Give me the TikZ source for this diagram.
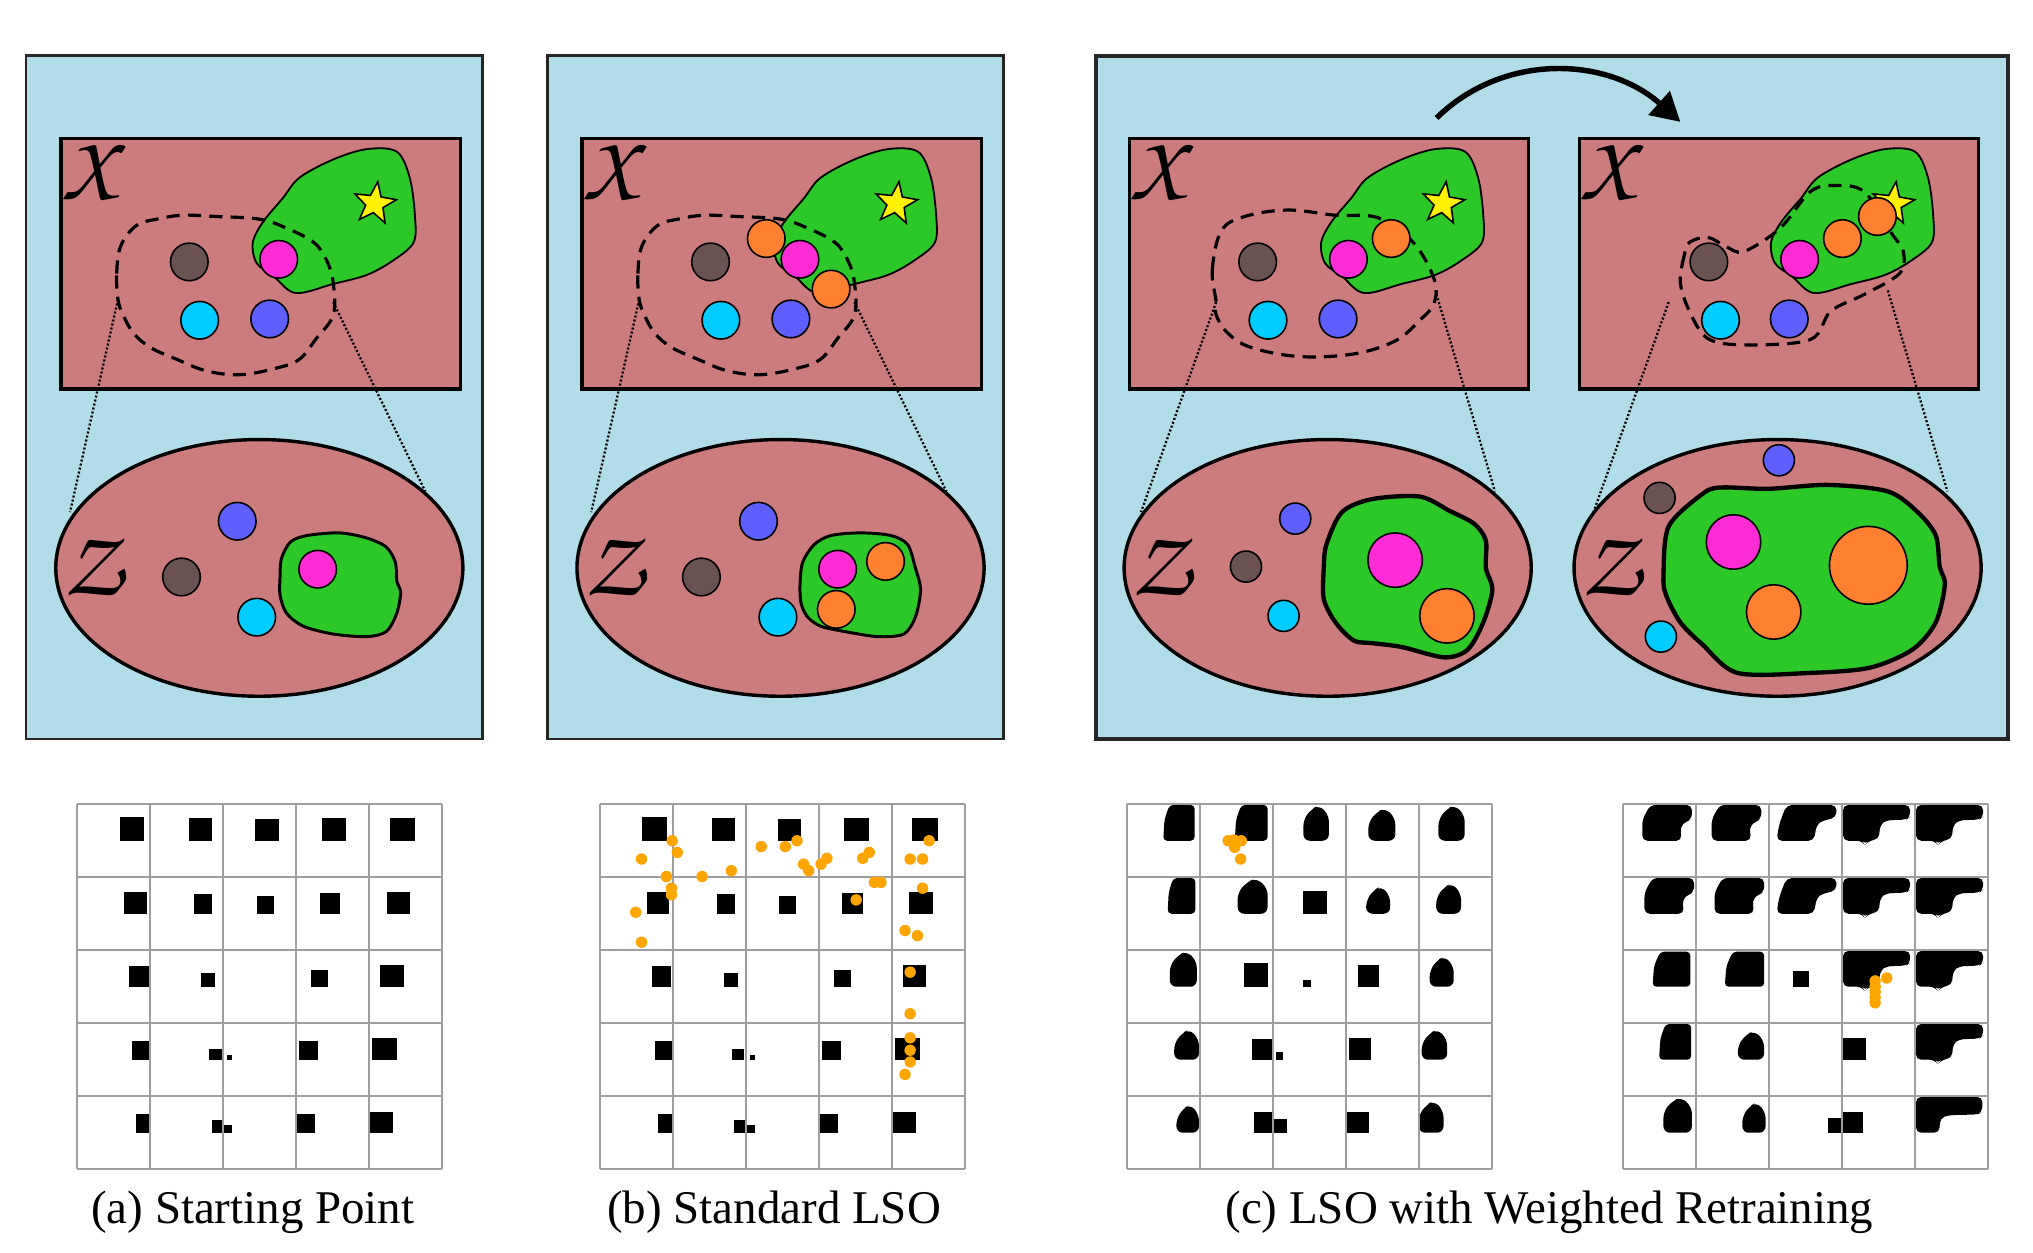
\documentclass[tikz,border=0pt]{standalone}
\usepackage{fontspec}
\setmainfont{Liberation Serif}
\usetikzlibrary{shapes.geometric,arrows.meta}

\definecolor{skyback}{RGB}{176,221,232}
\definecolor{rosy}{RGB}{204,124,124}
\definecolor{leaf}{RGB}{44,200,40}
\definecolor{seedbrown}{RGB}{107,82,82}
\definecolor{seedcyan}{RGB}{0,204,255}
\definecolor{seedblue}{RGB}{95,95,255}
\definecolor{seedpink}{RGB}{255,44,214}
\definecolor{neworange}{RGB}{255,128,48}
\definecolor{dotorange}{RGB}{255,165,0}

\newcommand{\chancery}{\fontencoding{OT1}\fontfamily{pzc}\fontseries{mb}\fontshape{it}\selectfont}

\tikzset{
  panel/.style={fill=skyback, draw=black!85, line width=0.6pt},
  space/.style={fill=rosy, draw=black, line width=0.75pt},
  region/.style={draw=black, line width=0.7pt, dash pattern=on 2.9pt off 1.8pt},
  blobx/.style={fill=leaf, draw=black, line width=0.4pt},
  blobz/.style={fill=leaf, draw=black, line width=0.65pt},
  pt/.style={draw=black, line width=0.35pt},
  zoomline/.style={line width=0.5pt, dash pattern=on 0.45pt off 0.45pt},
  gridline/.style={draw=black!38, line width=0.4pt},
  caption/.style={font=\fontsize{10.3}{12}\selectfont},
  lbl/.style={font=\fontsize{20.5}{20.5}\chancery, inner sep=0pt},
  goal/.style={star, star points=5, star point ratio=2.4, fill=yellow, draw=black,
    line width=0.35pt, minimum size=3.4mm, inner sep=0pt, rotate=-8},
  cyclearrow/.style={line width=1.2pt, -{Triangle[length=2.2mm, width=2.4mm]}},
  goodblob/.pic={
    \draw[blobx] plot[smooth cycle, tension=0.55] coordinates {(195,187) (203,171) (218,153)
      (231,137) (257,123) (283,115) (306,117) (316,137) (320,166) (319,187) (303,201)
      (283,212) (257,219) (228,226) (211,213) (198,203)};
  },
  seedregion/.pic={
    \draw[region] plot[smooth cycle, tension=0.6] coordinates {(91,231) (90,211) (93,190)
      (105,174) (121,169) (141,166) (167,167) (200,169) (221,176) (242,187) (252,201)
      (257,218) (257,243) (244,261) (231,277) (213,284) (185,289) (159,286) (136,277)
      (116,268) (103,257) (95,243)};
  },
  notchblot/.pic={
    \fill[rounded corners=0.4mm] (0.37,0.01) -- (0.94,0.01) -- (0.94,0.2) -- (0.86,0.24)
      -- (0.78,0.3) -- (0.8,0.5) -- (0.26,0.5) -- (0.26,0.21) -- cycle;
  },
  midblot/.pic={
    \fill[rounded corners=0.4mm] (0.24,0.01) -- (0.92,0.01) -- (0.92,0.18) -- (0.72,0.23)
      -- (0.65,0.28) -- (0.61,0.5) -- (0.1,0.5) -- (0.13,0.3) -- (0.18,0.15) -- cycle;
  },
  stepblot/.pic={
    \fill[rounded corners=0.4mm] (0.01,0.01) -- (0.93,0.01) -- (0.93,0.17) -- (0.88,0.21)
      -- (0.6,0.22) -- (0.52,0.28) -- (0.5,0.48) -- (0.36,0.5) -- (0.31,0.56) -- (0.27,0.5)
      -- (0.01,0.5) -- cycle;
  },
  lastblot/.pic={
    \fill[rounded corners=0.4mm] (0.01,0.01) -- (0.92,0.01) -- (0.92,0.22) -- (0.85,0.25)
      -- (0.45,0.26) -- (0.34,0.3) -- (0.33,0.5) -- (0.01,0.5) -- cycle;
  }
}

\newcommand{\slantblot}[4]{\fill[rounded corners=0.3mm] (#1,#4) -- ({#1+0.04*(#2-#1)},{#3+0.2})
  -- ({#1+0.2*(#2-#1)},#3) -- (#2,#3) -- (#2,#4) -- cycle;}
\newcommand{\hutblot}[4]{\fill[rounded corners=0.5mm] (#1,#4) -- (#1,{#3+0.2})
  -- ({#1+0.3*(#2-#1)},{#3+0.06}) -- ({#1+0.62*(#2-#1)},#3) -- (#2,{#3+0.14}) -- (#2,#4) -- cycle;}
\newcommand{\squarelist}{0.58/0.18/0.92/0.5, 1.53/0.19/1.85/0.5, 2.44/0.2/2.76/0.5,
  3.35/0.19/3.68/0.5, 4.28/0.19/4.63/0.5, 0.64/1.2/0.95/1.5, 1.6/1.23/1.85/1.5,
  2.46/1.26/2.69/1.5, 3.32/1.21/3.6/1.5, 4.24/1.2/4.56/1.5, 0.71/2.22/0.98/2.5,
  1.7/2.31/1.89/2.5, 3.2/2.27/3.44/2.5, 4.15/2.2/4.47/2.5, 0.75/3.24/0.99/3.5,
  1.81/3.35/1.98/3.5, 2.05/3.44/2.12/3.5, 3.04/3.25/3.3/3.5, 4.04/3.2/4.38/3.5,
  0.8/4.24/0.99/4.5, 1.84/4.33/2.0/4.5, 2.0/4.39/2.12/4.5, 3.0/4.24/3.26/4.5, 4.0/4.21/4.33/4.5}

\begin{document}
\begin{tikzpicture}[x=0.1mm, y=-0.1mm]
\useasboundingbox (0,0) rectangle (1568,966);

\draw[panel] (20,43) rectangle (372,570);
\draw[panel] (422,43) rectangle (774,570);
\draw[panel, line width=0.9pt] (845,43) rectangle (1549,570);

\foreach \dx in {0,402,824,1171} {
  \draw[space] ({47+\dx},107) rectangle ({355+\dx},300);
  \draw[space] ({200+\dx},438) ellipse [x radius=15.7mm, y radius=9.9mm];
  \node[lbl] (xlab-\dx) at ({69+\dx},132) {X};
  \node[lbl] (zlab-\dx) at ({71+\dx},437) {Z};
  \pic at (\dx,0) {goodblob};
  \node[goal] (star-\dx) at ({289+\dx},157) {};
}

\pic at (0,0) {seedregion};
\pic at (402,0) {seedregion};
\draw[region] plot[smooth cycle, tension=0.6] coordinates {(938,233) (935,208) (942,178)
  (960,167) (993,162) (1030,166) (1063,168) (1090,187) (1106,215) (1106,234) (1095,247)
  (1076,263) (1044,273) (1002,275) (965,268) (947,257) (938,243)};
\draw[region] plot[smooth cycle, tension=0.55] coordinates {(1303,187) (1299,197) (1296,218)
  (1303,240) (1317,261) (1345,266) (1396,262) (1412,240) (1438,227) (1465,211) (1468,194)
  (1459,180) (1438,148) (1415,143) (1396,148) (1373,176) (1345,194) (1331,190) (1317,183)};

\foreach \x/\y/\c in {146/202/seedbrown, 215/200/seedpink, 154/247/seedcyan, 208/246/seedblue,
  548/202/seedbrown, 556/247/seedcyan, 610/246/seedblue, 591/184/neworange, 617/200/seedpink,
  641/223/neworange, 970/202/seedbrown, 978/247/seedcyan, 1032/246/seedblue, 1040/200/seedpink,
  1073/184/neworange, 1318/202/seedbrown, 1327/247/seedcyan, 1380/246/seedblue,
  1388/200/seedpink, 1421/184/neworange, 1448/167/neworange}
  \filldraw[pt, fill=\c] (\x,\y) circle (1.45mm);

\draw[blobz] plot[smooth cycle, tension=0.5] coordinates {(216,445) (217,431) (224,418)
  (237,413) (262,411) (283,415) (298,422) (305,434) (306,448) (309,457) (306,473) (298,487)
  (283,491) (257,489) (234,483) (221,473) (216,459)};
\draw[blobz] plot[smooth cycle, tension=0.5] coordinates {(617,452) (619,434) (628,420)
  (641,413) (664,411) (687,413) (700,420) (706,438) (710,455) (706,476) (697,489) (677,491)
  (651,487) (633,483) (623,476) (618,466)};
\draw[blobz, line width=0.95pt] plot[smooth cycle, tension=0.5] coordinates {(1021,438)
  (1023,420) (1035,395) (1058,385) (1095,383) (1118,394) (1137,404) (1146,417) (1146,438)
  (1151,455) (1144,480) (1132,501) (1114,507) (1081,499) (1058,496) (1044,494) (1030,480)
  (1021,462)};
\draw[blobz, line width=0.95pt] plot[smooth cycle, tension=0.5] coordinates {(1283,444)
  (1287,406) (1313,381) (1327,376) (1364,377) (1410,374) (1456,379) (1479,395) (1493,413)
  (1496,437) (1500,451) (1493,480) (1475,501) (1442,515) (1396,519) (1340,519) (1313,497)
  (1296,480) (1285,459)};

\foreach \x/\y/\c/\r in {183/402/seedblue/1.45, 140/445/seedbrown/1.45, 198/476/seedcyan/1.45,
  245/439/seedpink/1.45, 585/402/seedblue/1.45, 541/445/seedbrown/1.45, 600/476/seedcyan/1.45,
  646/439/seedpink/1.45, 683/433/neworange/1.45, 645/470/neworange/1.45,
  999/400/seedblue/1.2, 961/437/seedbrown/1.2, 990/475/seedcyan/1.2, 1076/432/seedpink/2.1,
  1116/475/neworange/2.1, 1372/355/seedblue/1.2, 1280/384/seedbrown/1.2, 1281/491/seedcyan/1.2,
  1337/418/seedpink/2.1, 1368/472/neworange/2.1, 1441/436/neworange/3.0}
  \filldraw[pt, fill=\c] (\x,\y) circle (\r mm);

\coordinate (a-l1) at (91,231);   \coordinate (a-l2) at (54,395);
\coordinate (a-r1) at (257,233);  \coordinate (a-r2) at (328,379);
\coordinate (b-l1) at (493,231);  \coordinate (b-l2) at (456,395);
\coordinate (b-r1) at (659,233);  \coordinate (b-r2) at (730,379);
\coordinate (c-l1) at (938,233);  \coordinate (c-l2) at (880,395);
\coordinate (c-r1) at (1107,224); \coordinate (c-r2) at (1153,379);
\coordinate (d-l1) at (1287,233); \coordinate (d-l2) at (1229,395);
\coordinate (d-r1) at (1456,224); \coordinate (d-r2) at (1502,379);
\foreach \p in {a,b,c,d} {
  \draw[zoomline] (\p-l1) to (\p-l2);
  \draw[zoomline] (\p-r1) to (\p-r2);
}

\coordinate (turn-from) at (1108,91);
\coordinate (turn-to) at (1296,94);
\draw[cyclearrow] (turn-from) .. controls (1160,40) and (1240,44) .. (turn-to);

% grids of designs
\begin{scope}[shift={(59.6,620.3)}, x=5.63mm, y=-5.63mm]
  \foreach \a/\b/\c/\d in \squarelist \fill (\a,\b) rectangle (\c,\d);
  \foreach \k in {0,...,5} {\draw[gridline] (\k,0) -- (\k,5); \draw[gridline] (0,\k) -- (5,\k);}
\end{scope}

\begin{scope}[shift={(462.7,620.3)}, x=5.63mm, y=-5.63mm]
  \foreach \a/\b/\c/\d in \squarelist \fill (\a,\b) rectangle (\c,\d);
  \foreach \k in {0,...,5} {\draw[gridline] (\k,0) -- (\k,5); \draw[gridline] (0,\k) -- (5,\k);}
  \foreach \x/\y in {0.99/0.5, 1.06/0.66, 0.57/0.75, 0.91/0.99, 0.98/1.15, 0.98/1.24, 0.49/1.48,
    0.57/1.89, 1.4/0.99, 1.8/0.91, 2.21/0.58, 2.54/0.58, 2.7/0.5, 2.79/0.82, 2.86/0.91, 3.03/0.82,
    3.11/0.74, 3.6/0.74, 3.69/0.66, 3.76/1.07, 3.85/1.07, 3.51/1.31, 4.51/0.5, 4.25/0.75,
    4.42/0.75, 4.42/1.15, 4.18/1.73, 4.35/1.8, 4.25/2.3, 4.25/2.87, 4.25/3.2, 4.25/3.37,
    4.25/3.53, 4.18/3.7}
    \fill[dotorange] (\x,\y) circle (0.44mm);
\end{scope}

\begin{scope}[shift={(869,620.3)}, x=5.63mm, y=-5.63mm]
  \foreach \a/\b/\t/\d in {0.5/0.93/0.01/0.5, 1.48/1.93/0.01/0.5, 0.56/0.94/1.01/1.5}
    \slantblot{\a}{\b}{\t}{\d};
  \foreach \a/\b/\t/\d in {2.42/2.77/0.01/0.5, 3.31/3.68/0.05/0.5, 4.27/4.63/0.01/0.5,
    1.52/1.93/1.01/1.5, 3.28/3.61/1.12/1.5, 4.24/4.58/1.08/1.5, 0.59/0.96/2.01/2.5,
    4.15/4.48/2.08/2.5, 0.65/0.99/3.08/3.5, 4.04/4.39/3.08/3.5, 0.68/0.99/4.11/4.5,
    4.0/4.34/4.06/4.5}
    \hutblot{\a}{\b}{\t}{\d};
  \foreach \a/\b/\c/\d in {2.42/1.19/2.74/1.5, 1.6/2.18/1.93/2.5, 2.42/2.41/2.53/2.5,
    3.17/2.2/3.46/2.5, 1.71/3.21/1.99/3.5, 2.04/3.39/2.14/3.5, 3.04/3.2/3.34/3.5,
    1.75/4.21/2.0/4.5, 2.0/4.31/2.19/4.5, 3.01/4.21/3.32/4.5}
    \fill (\a,\b) rectangle (\c,\d);
  \foreach \k in {0,...,5} {\draw[gridline] (\k,0) -- (\k,5); \draw[gridline] (0,\k) -- (5,\k);}
  \foreach \x/\y in {1.39/0.5, 1.47/0.49, 1.57/0.5, 1.48/0.59, 1.56/0.75}
    \fill[dotorange] (\x,\y) circle (0.44mm);
\end{scope}

\begin{scope}[shift={(1252,620.3)}, x=5.63mm, y=-5.63mm]
  \foreach \p in {(0,0), (0.95,0), (0.03,1), (0.99,1)} \pic at \p {notchblot};
  \foreach \p in {(2,0), (2,1)} \pic at \p {midblot};
  \foreach \p in {(3,0), (4,0), (3,1), (4,1), (3,2), (4,2), (4,3)} \pic at \p {stepblot};
  \pic at (4,4) {lastblot};
  \foreach \a/\b/\t/\d in {0.4/0.92/2.02/2.5, 1.39/1.93/2.02/2.5, 0.49/0.93/3.01/3.5}
    \slantblot{\a}{\b}{\t}{\d};
  \foreach \a/\b/\t/\d in {1.57/1.93/3.1/3.5, 0.55/0.94/4.01/4.5, 1.63/1.95/4.08/4.5}
    \hutblot{\a}{\b}{\t}{\d};
  \foreach \a/\b/\c/\d in {2.33/2.29/2.54/2.5, 3.01/3.2/3.33/3.5, 2.81/4.3/3.0/4.5,
    3.0/4.21/3.29/4.5}
    \fill (\a,\b) rectangle (\c,\d);
  \foreach \k in {0,...,5} {\draw[gridline] (\k,0) -- (\k,5); \draw[gridline] (0,\k) -- (5,\k);}
  \foreach \x/\y in {3.45/2.42, 3.45/2.5, 3.45/2.57, 3.45/2.65, 3.45/2.72, 3.61/2.38}
    \fill[dotorange] (\x,\y) circle (0.44mm);
\end{scope}

\node[caption] (cap-a) at (195,935) {(a) Starting Point};
\node[caption] (cap-b) at (597,935) {(b) Standard LSO};
\node[caption] (cap-c) at (1195,935) {(c) LSO with Weighted Retraining};
\end{tikzpicture}
\end{document}
